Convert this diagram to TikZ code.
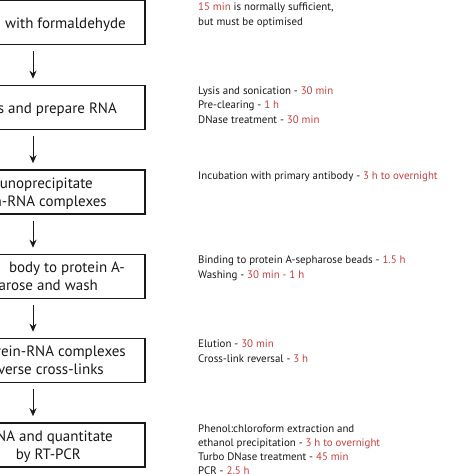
\documentclass[tikz,border=0pt]{standalone}
\usepackage{fontspec}
\setmainfont{PT Sans}
\usetikzlibrary{arrows.meta}
\definecolor{timered}{RGB}{198,64,64}
\definecolor{ink}{RGB}{25,25,25}
\newcommand{\tm}[1]{\textcolor{timered}{#1}}
\begin{document}
\begin{tikzpicture}[x=1pt,y=-1pt,
  stepbox/.style={draw=ink, line width=1.6pt, minimum width=224pt, minimum height=44pt, inner sep=0pt},
  boxtext/.style={font=\fontsize{15}{18.5}\selectfont, text=ink, anchor=base east, inner sep=0pt},
  note/.style={font=\fontsize{10.9}{14.2}\selectfont, text=ink, anchor=base west, align=left, inner sep=0pt},
  flow/.style={-{Stealth[length=8pt,width=7pt]}, draw=ink, line width=0.9pt, shorten <=6pt, shorten >=6pt}]
\useasboundingbox (0,0) rectangle (474,474);
\fill[white] (0,0) rectangle (474,474);
% boxes
\node[stepbox] (b1) at (33,22.5) {};
\node[stepbox] (b2) at (33,107.5) {};
\node[stepbox] (b3) at (33,192) {};
\node[stepbox] (b4) at (33,276.5) {};
\node[stepbox] (b5) at (33,360.5) {};
\node[stepbox] (b6) at (33,445) {};
% box texts (visible parts)
\node[boxtext] (t1) at (126,28) {with formaldehyde};
\node[boxtext] (t2) at (117,113) {s and prepare RNA};
\node[boxtext] (t3a) at (93,188) {unoprecipitate};
\node[boxtext] (t3b) at (107,206) {n-RNA complexes};
\node[boxtext] (t4a) at (125,272) {body to protein A-};
\node[boxtext] (t4b) at (98,290) {arose and wash};
\node[boxtext] (t5a) at (126,356) {rein-RNA complexes};
\node[boxtext] (t5b) at (104,374) {verse cross-links};
\node[boxtext] (t6a) at (113,441) {NA and quantitate};
\node[boxtext] (t6b) at (81,459) {by RT-PCR};
% connectors
\draw[flow] (b1) -- (b2);
\draw[flow] (b2) -- (b3);
\draw[flow] (b3) -- (b4);
\draw[flow] (b4) -- (b5);
\draw[flow] (b5) -- (b6);
% notes (anchor = baseline of last line)
\node[note] (n1) at (198,25) {\tm{15 min} is normally sufficient,\\but must be optimised};
\node[note] (n2) at (198,123) {Lysis and sonication - \tm{30 min}\\Pre-clearing - \tm{1 h}\\DNase treatment - \tm{30 min}};
\node[note] (n3) at (198,179) {Incubation with primary antibody - \tm{3 h to overnight}};
\node[note] (n4) at (198,278) {Binding to protein A-sepharose beads - \tm{1.5 h}\\Washing - \tm{30 min - 1 h}};
\node[note] (n5) at (198,362) {Elution - \tm{30 min}\\Cross-link reversal - \tm{3 h}};
\node[note] (n6) at (198,474.6) {Phenol:chloroform extraction and\\ethanol precipitation - \tm{3 h to overnight}\\Turbo DNase treatment - \tm{45 min}\\PCR - \tm{2.5 h}};
\end{tikzpicture}
\end{document}
